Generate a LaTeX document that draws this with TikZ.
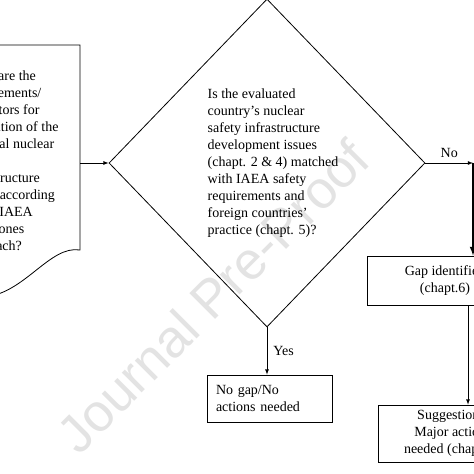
\documentclass[tikz,border=0pt]{standalone}
\usepackage{fontspec}
\setmainfont{Liberation Serif}
\newfontfamily\markfont{Liberation Sans}
\usetikzlibrary{arrows,shapes}

\begin{document}
\begin{tikzpicture}[x=1pt,y=-1pt,>=latex,line width=0.8pt,
    txt/.style={font=\fontsize{14}{17}\selectfont, inner sep=0pt},
    box/.style={draw, rectangle, txt, align=center},
    flow/.style={->}]
      \useasboundingbox (0,0) rectangle (474,474);
      \clip (0,0) rectangle (474,474);
      % watermark
      \node [rotate=45, text=black!11, font=\markfont\fontsize{53}{53}\selectfont] (mark) at (213,296) {Journal Pre-Proof};
      % question document
      \draw (-50,45) -- (80,45) -- (80,250) .. controls (50,245) and (25,293) .. (-15,297) -- (-50,297);
      \node [txt, align=left, anchor=north west] (question) at (-36,70.5) {What are the\\ requirements/\\ indicators for\\ evaluation of the\\ national nuclear\\ safety\\ infrastructure\\ (NSI) according\\ to the IAEA\\ milestones\\ approach?};
      \coordinate (qout) at (80,163);
      % decision
      \node [diamond, draw, minimum width=316pt, minimum height=328pt, inner sep=0pt] (check) at (267,163) {};
      \node [txt, align=left] (checktext) at (273,163) {Is the evaluated\\ country's nuclear\\ safety infrastructure\\ development issues\\ (chapt. 2 \& 4) matched\\ with IAEA safety\\ requirements and\\ foreign countries'\\ practice (chapt. 5)?};
      % outcomes
      \node [box, align=left, text width=107pt, inner xsep=9pt, minimum height=47pt] (nogap) at (269.5,398.5) {No gap/No\\ actions needed};
      \node [box, minimum width=156pt, minimum height=49pt] (gap) at (445,280.5) {Gap identified\\ (chapt.6)};
      \node [box, minimum width=150pt, minimum height=57pt] (suggest) at (453,433.5) {Suggestions/\\ Major actions\\ needed (chapt. 7)};
      \coordinate (noend) at (473,163);
      \coordinate (gapout) at (468,0);
      % connectors
      \draw [flow] (qout) -- (check.west);
      \draw [flow] (check.east) -- node [txt, above=5pt] (nolabel) {No} (noend);
      \draw [flow, line width=2pt] (noend) -- (noend |- gap.north);
      \draw [flow] (check.south) -- node [txt, right=6pt] (yeslabel) {Yes} (check.south |- nogap.north);
      \draw [flow] (gapout |- gap.south) -- (gapout |- suggest.north);
\end{tikzpicture}
\end{document}
